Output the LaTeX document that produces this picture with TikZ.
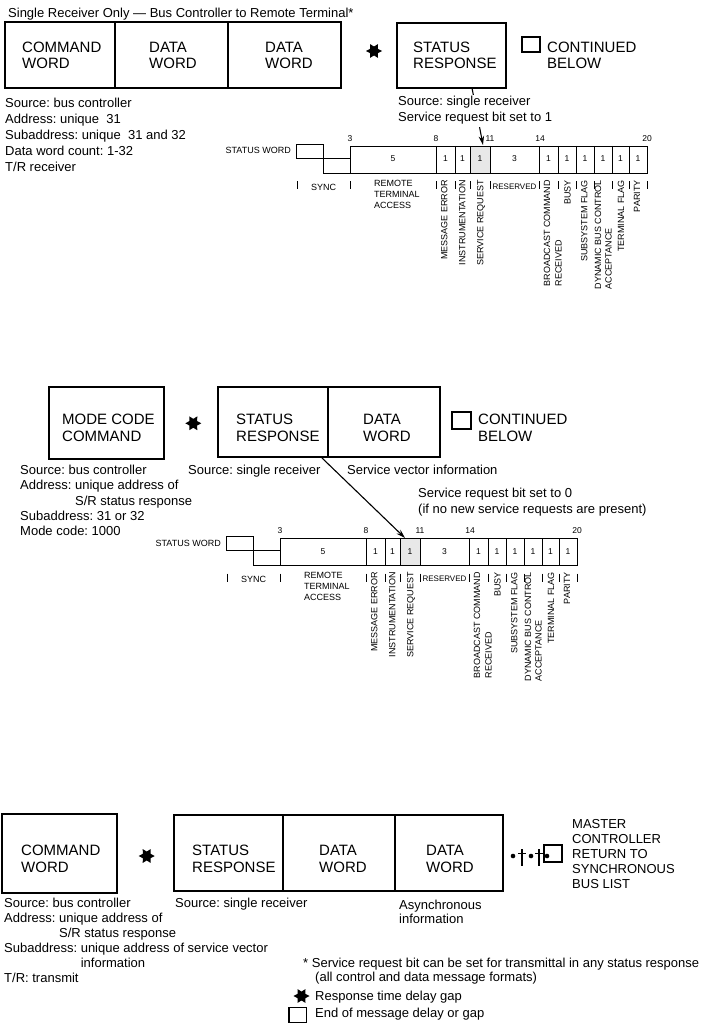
\documentclass[tikz,border=0pt]{standalone}
\usepackage{fontspec}
\setmainfont{Liberation Sans}
\usetikzlibrary{arrows.meta,shapes.geometric,calc}
\frenchspacing
\newcommand\mylines[1]{\begin{tabular}[t]{@{}l@{}}#1\end{tabular}}
\tikzset{
  box/.style={draw, line width=1.4pt},
  thinl/.style={draw, line width=0.7pt},
  bigtxt/.style={font=\fontsize{15}{#1}\selectfont, anchor=base west, inner sep=0pt},
  bigtxt/.default=17,
  txt/.style={font=\fontsize{13}{#1}\selectfont, anchor=base west, inner sep=0pt},
  txt/.default=15.5,
  swlab/.style={font=\fontsize{9}{#1}\selectfont, inner sep=0pt},
  swlab/.default=11,
  swnum/.style={font=\fontsize{8.5}{10}\selectfont, inner sep=0pt, anchor=base},
  rot/.style={swlab, rotate=90},
  star6/.style={star, star points=6, star point ratio=1.8, fill=black, draw=none, inner sep=0pt, minimum size=16pt, shape border rotate=90},
  arr/.style={line width=1.1pt, -{Stealth[length=9pt,width=5.5pt]}},
}
\newcommand\swdraw[1]{%
  \node[swlab, anchor=base east] (#1lab) at (291,154) {STATUS WORD};
  \draw[thinl] (296,144) rectangle (323,158);
  \draw[thinl] (323,158) -- (323,173) -- (350,173);
  \draw[thinl] (323,158) -- (350,158);
  \draw[thinl, fill=black!9] (470,146) rectangle (490,173);
  \draw[thinl] (350,146) rectangle (647,173);
  \foreach \x in {436,455,470,490,539,558,576,594,612,629} \draw[thinl] (\x,146) -- (\x,173);
  \foreach \x/\t in {350/3,436/8,490/11,540/14,647/20} \node[swnum] (#1top\t) at (\x,141.5) {\t};
  \foreach \x/\t [count=\i] in {393/5,445.5/1,462.5/1,480/1,514.5/3,548.5/1,567/1,585/1,603/1,620.5/1,638/1} \node[swnum] (#1v\i) at (\x,162) {\t};
  \foreach \x in {297,350,436,455,470,490,539,558,576,594,612,629,647} \draw[thinl] (\x,181.5) -- (\x,189.5);
  \node[swlab, anchor=base] (#1sync) at (323.5,190.5) {SYNC};
  \node[swlab, anchor=base west] (#1rta) at (374,186.7) {\mylines{REMOTE\\TERMINAL\\ACCESS}};
  \node[swlab, font=\fontsize{8}{10}\selectfont, anchor=base] (#1res) at (514.5,189.5) {RESERVED};
  \node[rot, anchor=base east] (#1me) at (447.3,180) {MESSAGE ERROR};
  \node[rot, anchor=base east] (#1ins) at (465.3,180) {INSTRUMENTATION};
  \node[rot, anchor=base east] (#1sr) at (483.3,180) {SERVICE REQUEST};
  \node[rot, anchor=base east] (#1bc) at (550,180) {BROADCAST COMMAND};
  \node[rot, anchor=base west] (#1rec) at ($(#1bc.base west)+(11.7,0)$) {RECEIVED};
  \node[rot, anchor=base east] (#1busy) at (570.7,180) {BUSY};
  \node[rot, anchor=base east] (#1ssf) at (587.3,180) {SUBSYSTEM FLAG};
  \node[rot, anchor=base east] (#1dbc) at (601,180) {DYNAMIC BUS CONTROL};
  \node[rot, anchor=base west] (#1acc) at ($(#1dbc.base west)+(10.7,0)$) {ACCEPTANCE};
  \node[rot, anchor=base east] (#1tf) at (624,180) {TERMINAL FLAG};
  \node[rot, anchor=base east] (#1par) at (640,180) {PARITY};
}
\begin{document}
\begin{tikzpicture}[x=1pt,y=-1pt]
\useasboundingbox[fill=white] (0,0) rectangle (704,1024);
% ---------- section 1 ----------
\node[txt] (ttl) at (8,17.3) {Single Receiver Only — Bus Controller to Remote Terminal*};
\draw[box] (5,22) rectangle (341,88);
\draw[box] (115,22) -- (115,88);
\draw[box] (228,22) -- (228,88);
\node[bigtxt=16] (cw1) at (22,52.5) {\mylines{COMMAND\\WORD}};
\node[bigtxt=16] (dw1a) at (149,52.5) {\mylines{DATA\\WORD}};
\node[bigtxt=16] (dw1b) at (265,52.5) {\mylines{DATA\\WORD}};
\node[star6] (st1) at (374,51) {};
\draw[box] (397,23) rectangle (506,88);
\node[bigtxt=16] (sr1) at (413,52.5) {\mylines{STATUS\\RESPONSE}};
\draw[box] (522,37) rectangle (540,52);
\node[bigtxt=16] (cb1) at (547,52.5) {\mylines{CONTINUED\\BELOW}};
\node[txt=16] (src1) at (5,107.5) {\mylines{Source: bus controller\\Address: unique\ \ 31\\Subaddress: unique\ \ 31 and 32\\Data word count: 1-32\\T/R receiver}};
\coordinate (a1s) at (472,88);
\coordinate (a1e) at (483,145);
\draw[arr] (a1s) -- (a1e);
\node[txt=16, fill=white] (ssr1) at (398,106) {\mylines{Source: single receiver\\Service request bit set to 1}};
\swdraw{a}
% ---------- section 2 ----------
\draw[box] (49,387) rectangle (164,459);
\node[bigtxt=17.4] (mcc) at (62,424.3) {\mylines{MODE CODE\\COMMAND}};
\node[star6] (st2) at (193.3,423.3) {};
\draw[box] (218,387) rectangle (440,457);
\draw[box] (328,387) -- (328,457);
\node[bigtxt=17.4] (sr2) at (236,424.3) {\mylines{STATUS\\RESPONSE}};
\node[bigtxt=17.4] (dw2) at (363,424.3) {\mylines{DATA\\WORD}};
\draw[box] (452,412) rectangle (471,429);
\node[bigtxt=17.4] (cb2) at (478,424.3) {\mylines{CONTINUED\\BELOW}};
\node[txt=15.35] (src2) at (20,474.3) {\mylines{Source: bus controller\\Address: unique address of\\\phantom{Address:\ }S/R status response\\Subaddress: 31 or 32\\Mode code: 1000}};
\node[txt] (ssr2) at (188,474.3) {Source: single receiver};
\node[txt] (svi) at (347,474) {Service vector information};
\node[txt=15.3] (srb0) at (418,497.7) {\mylines{Service request bit set to 0\\(if no new service requests are present)}};
\coordinate (a2s) at (322,458);
\coordinate (a2e) at (405,538);
\draw[arr] (a2s) -- (a2e);
\begin{scope}[shift={(-70,392)}]
\swdraw{b}
\end{scope}
% ---------- section 3 ----------
\draw[box] (2,814) rectangle (117,893);
\node[bigtxt=17.7] (cw3) at (21,855) {\mylines{COMMAND\\WORD}};
\node[star6] (st3) at (146.7,856) {};
\draw[box] (174,815) rectangle (503,891);
\draw[box] (283,815) -- (283,891);
\draw[box] (395,815) -- (395,891);
\node[bigtxt=17.7] (sr3) at (192,855) {\mylines{STATUS\\RESPONSE}};
\node[bigtxt=17.7] (dw3a) at (319,855) {\mylines{DATA\\WORD}};
\node[bigtxt=17.7] (dw3b) at (426,855) {\mylines{DATA\\WORD}};
\fill (513,856) circle (2.3pt);
\fill (531,856) circle (2.3pt);
\fill (547,856) circle (2.3pt);
\draw[line width=1.3pt] (522,849) -- (522,866) (518,853.5) -- (526,853.5);
\draw[line width=1.3pt] (539,849) -- (539,866) (535,853.5) -- (543,853.5);
\draw[box] (544,845) rectangle (562,862);
\node[txt=15] (mcr) at (572,828.3) {\mylines{MASTER\\CONTROLLER\\RETURN TO\\SYNCHRONOUS\\BUS LIST}};
\node[txt=15.1] (src3) at (4,907.3) {\mylines{Source: bus controller\\Address: unique address of\\\phantom{Address:\ }S/R status response\\Subaddress: unique address of service vector\\\phantom{Subaddress:\ }information\\T/R: transmit}};
\node[txt] (ssr3) at (175,907.3) {Source: single receiver};
\node[txt=14.3] (asy) at (399,909) {\mylines{Asynchronous\\information}};
% ---------- footnotes ----------
\node[txt=14.2] (fn1) at (303,967.3) {\mylines{* Service request bit can be set for transmittal in any status response\\\hspace*{12pt}(all control and data message formats)}};
\node[star6] (st4) at (301.5,996) {};
\node[txt] (fn2) at (315,1000.7) {Response time delay gap};
\draw[box] (289,1007.5) rectangle (306.5,1022.7);
\node[txt] (fn3) at (315,1017.3) {End of message delay or gap};
\end{tikzpicture}
\end{document}
